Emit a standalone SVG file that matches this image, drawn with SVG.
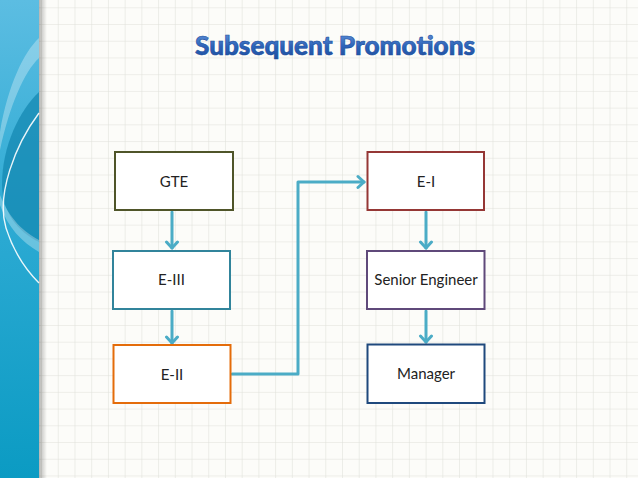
<svg xmlns="http://www.w3.org/2000/svg" width="638" height="478" viewBox="0 0 638 478">
  <defs>
    <pattern id="grid" patternUnits="userSpaceOnUse" x="7.6" y="7.3" width="16.72" height="16.72">
      <path d="M0,0 V16.72 M0,0 H16.72" stroke="#dfe0da" stroke-width="1.1" fill="none"/>
    </pattern>
    <linearGradient id="panel" x1="0" y1="0" x2="0" y2="1">
      <stop offset="0" stop-color="#5cbde2"/>
      <stop offset="0.5" stop-color="#2aa9d2"/>
      <stop offset="1" stop-color="#0b9bc3"/>
    </linearGradient>
    <linearGradient id="shadow" x1="0" y1="0" x2="1" y2="0">
      <stop offset="0" stop-color="#000" stop-opacity="0.28"/>
      <stop offset="1" stop-color="#000" stop-opacity="0"/>
    </linearGradient>
    <linearGradient id="titleGrad" x1="0" y1="0" x2="0" y2="1">
      <stop offset="0" stop-color="#6a9be0"/>
      <stop offset="0.55" stop-color="#2b62b8"/>
      <stop offset="1" stop-color="#1c4d9c"/>
    </linearGradient>
    <marker id="arrow" markerUnits="userSpaceOnUse" markerWidth="16" markerHeight="16" viewBox="-8 -8 16 16" refX="0" refY="0" orient="auto">
      <path d="M-6,-5.5 L0,0 L-6,5.5" fill="none" stroke="#4bacc6" stroke-width="3" stroke-linecap="round" stroke-linejoin="round"/>
    </marker>
    <style>
      .box { fill: #ffffff; stroke-width: 2; }
      .lbl { font-family: Lato, "Liberation Sans", sans-serif; font-size: 15px; fill: #222; text-anchor: middle; }
      .conn { fill: none; stroke: #4bacc6; stroke-width: 3; stroke-linecap: round; stroke-linejoin: round; marker-end: url(#arrow); }
    </style>
  </defs>

  <!-- background -->
  <rect x="0" y="0" width="638" height="478" fill="#fcfcf9"/>
  <rect x="39" y="0" width="599" height="478" fill="url(#grid)"/>

  <!-- left decorative panel -->
  <g id="panel-deco">
    <rect x="0" y="0" width="39" height="478" fill="url(#panel)"/>
    <rect x="39" y="0" width="8" height="478" fill="url(#shadow)"/>
    <path d="M39,92 C20,110 2,145 2,185 C2,212 18,232 39,242 Z" fill="#1488b2" opacity="0.75"/>
    <path d="M39,38 C24,52 8,85 0,132 L0,150 C10,105 24,72 39,58 Z" fill="#ffffff" opacity="0.3"/>
    <path d="M0,205 C8,228 22,242 39,252 L39,240 C24,232 10,220 0,195 Z" fill="#ffffff" opacity="0.3"/>
    <path d="M39,113 C15,145 -4,195 6,228 C13,250 26,270 39,283" fill="none" stroke="#ffffff" stroke-width="1.4" opacity="0.9"/>
  </g>

  <!-- title -->
  <text x="335" y="55" text-anchor="middle" font-family="Lato, 'Liberation Sans', sans-serif" font-weight="900" font-size="26" textLength="280" lengthAdjust="spacingAndGlyphs" fill="url(#titleGrad)" stroke="#1c4d9c" stroke-width="0.6">Subsequent Promotions</text>

  <!-- connectors -->
  <g id="connectors">
    <path class="conn" d="M172,212 V248"/>
    <path class="conn" d="M172,311 V343"/>
    <path class="conn" d="M426,212 V248"/>
    <path class="conn" d="M426,311 V342"/>
    <path class="conn" d="M232,374 H298 V182 H364"/>
  </g>

  <!-- nodes -->
  <g id="node-gte">
    <rect class="box" x="115" y="152" width="118" height="58" stroke="#4f5529"/>
    <text class="lbl" x="174" y="186.5">GTE</text>
  </g>
  <g id="node-e3">
    <rect class="box" x="113" y="251" width="117" height="58" stroke="#31849b"/>
    <text class="lbl" x="171.5" y="285">E-III</text>
  </g>
  <g id="node-e2">
    <rect class="box" x="113.5" y="345" width="117" height="58" stroke="#e46c0a"/>
    <text class="lbl" x="172" y="380">E-II</text>
  </g>
  <g id="node-e1">
    <rect class="box" x="367.5" y="152" width="116.5" height="58" stroke="#953735"/>
    <text class="lbl" x="426" y="186.5">E-I</text>
  </g>
  <g id="node-senior">
    <rect class="box" x="367" y="251" width="117.5" height="58" stroke="#5f497a"/>
    <text class="lbl" x="426" y="285">Senior Engineer</text>
  </g>
  <g id="node-manager">
    <rect class="box" x="367.5" y="344.5" width="117" height="58.5" stroke="#1f497d"/>
    <text class="lbl" x="426" y="379">Manager</text>
  </g>
</svg>
